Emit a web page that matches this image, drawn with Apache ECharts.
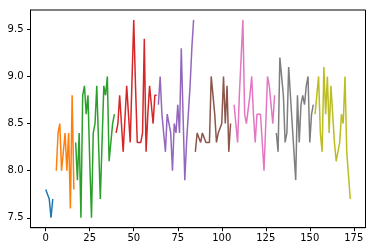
<!DOCTYPE html>
<html>
<head>
<meta charset="utf-8">
<script src="https://cdn.jsdelivr.net/npm/echarts@6/dist/echarts.min.js"></script>
<style>html,body{margin:0;padding:0;background:#fff}#c{width:375px;height:252px}</style>
</head>
<body>
<div id="c"></div>
<script>
const xTicks = [0, 25, 50, 75, 100, 125, 150, 175];
const yTicks = [7.5, 8.0, 8.5, 9.0, 9.5];
const colors = ['#1f77b4','#ff7f0e','#2ca02c','#d62728','#9467bd','#8c564b','#e377c2','#7f7f7f','#bcbd22'];

const starts = [0, 6, 17, 40, 64, 85, 107, 131, 153];
const s0 = [7.8, 7.8, 7.7, 7.5, 7.7];
const s1 = [8.0, 8.4, 8.5, 8.0, 8.2, 8.4, 8.0, 8.4, 7.6, 8.8, 7.8];
const s2 = [8.3, 7.9, 8.4, 7.5, 8.8, 8.9, 8.6, 8.8, 8.1, 7.5, 8.4, 8.5, 8.9, 8.3, 7.7, 8.3, 8.9, 8.8, 9.0, 8.1, 8.1, 8.5, 8.6];
const s3 = [8.4, 8.5, 8.8, 8.5, 8.2, 8.2, 8.9, 8.6, 8.3, 8.3, 9.6, 8.9, 8.3, 8.3, 8.3, 8.4, 9.4, 8.2, 8.6, 8.9, 8.7, 8.5, 8.8, 8.8];
const s4 = [8.7, 9.0, 8.6, 8.4, 8.2, 8.6, 8.6, 8.4, 8.0, 8.5, 8.4, 8.7, 8.4, 9.3, 8.6, 7.9, 8.3, 8.6, 8.9, 9.3, 9.6];
const s5 = [8.2, 8.4, 8.4, 8.3, 8.4, 8.4, 8.3, 8.3, 8.3, 9.0, 9.0, 8.6, 8.3, 8.4, 8.4, 8.5, 9.0, 8.5, 8.9, 8.2, 8.5];
const s6 = [8.7, 8.5, 8.3, 8.8, 8.8, 9.6, 8.6, 8.5, 8.5, 8.8, 9.0, 8.6, 8.3, 8.6, 8.6, 8.6, 8.3, 8.0, 8.5, 9.0, 8.9, 8.9, 8.5, 8.8];
const s7 = [8.4, 8.2, 9.2, 9.0, 8.8, 8.3, 8.4, 9.1, 9.1, 8.5, 8.5, 7.9, 8.8, 8.3, 8.7, 8.8, 8.7, 8.9, 9.0, 8.3, 8.6, 8.7];
const s8 = [8.6, 8.6, 9.0, 8.4, 8.2, 9.1, 8.6, 9.0, 8.4, 8.9, 8.6, 8.3, 8.1, 8.1, 8.3, 8.6, 8.5, 9.0, 8.2, 8.2, 7.7];
const groups = [s0, s1, s2, s3, s4, s5, s6, s7, s8];

const font = 'DejaVu Sans';
const series = groups.map((g, i) => ({
  type: 'line',
  data: g.map((v, j) => [starts[i] + j, v]),
  showSymbol: false,
  symbol: 'none',
  lineStyle: { color: colors[i], width: 1.5 },
  itemStyle: { color: colors[i] },
  animation: false,
  silent: true
}));

const chart = echarts.init(document.getElementById('c'), null, { renderer: 'canvas' });
chart.setOption({
  animation: false,
  backgroundColor: '#fff',
  grid: { left: 30.5, right: 9.5, top: 10, bottom: 24.3, show: true, borderColor: '#000', borderWidth: 1, backgroundColor: 'transparent' },
  xAxis: {
    type: 'value', min: -8.65, max: 181.65,
    splitLine: { show: false },
    axisLine: { show: true, onZero: false, lineStyle: { color: '#000', width: 1 } },
    axisTick: { show: true, inside: false, length: 3.5, lineStyle: { color: '#000', width: 1 }, customValues: xTicks },
    axisLabel: { customValues: xTicks, color: '#000', fontFamily: font, fontSize: 10, margin: 6 }
  },
  yAxis: {
    type: 'value', min: 7.395, max: 9.705,
    splitLine: { show: false },
    axisLine: { show: true, onZero: false, lineStyle: { color: '#000', width: 1 } },
    axisTick: { show: true, inside: false, length: 3.5, lineStyle: { color: '#000', width: 1 }, customValues: yTicks },
    axisLabel: { customValues: yTicks, color: '#000', fontFamily: font, fontSize: 10, margin: 7, formatter: v => v.toFixed(1) }
  },
  series: series
});
</script>
</body>
</html>
